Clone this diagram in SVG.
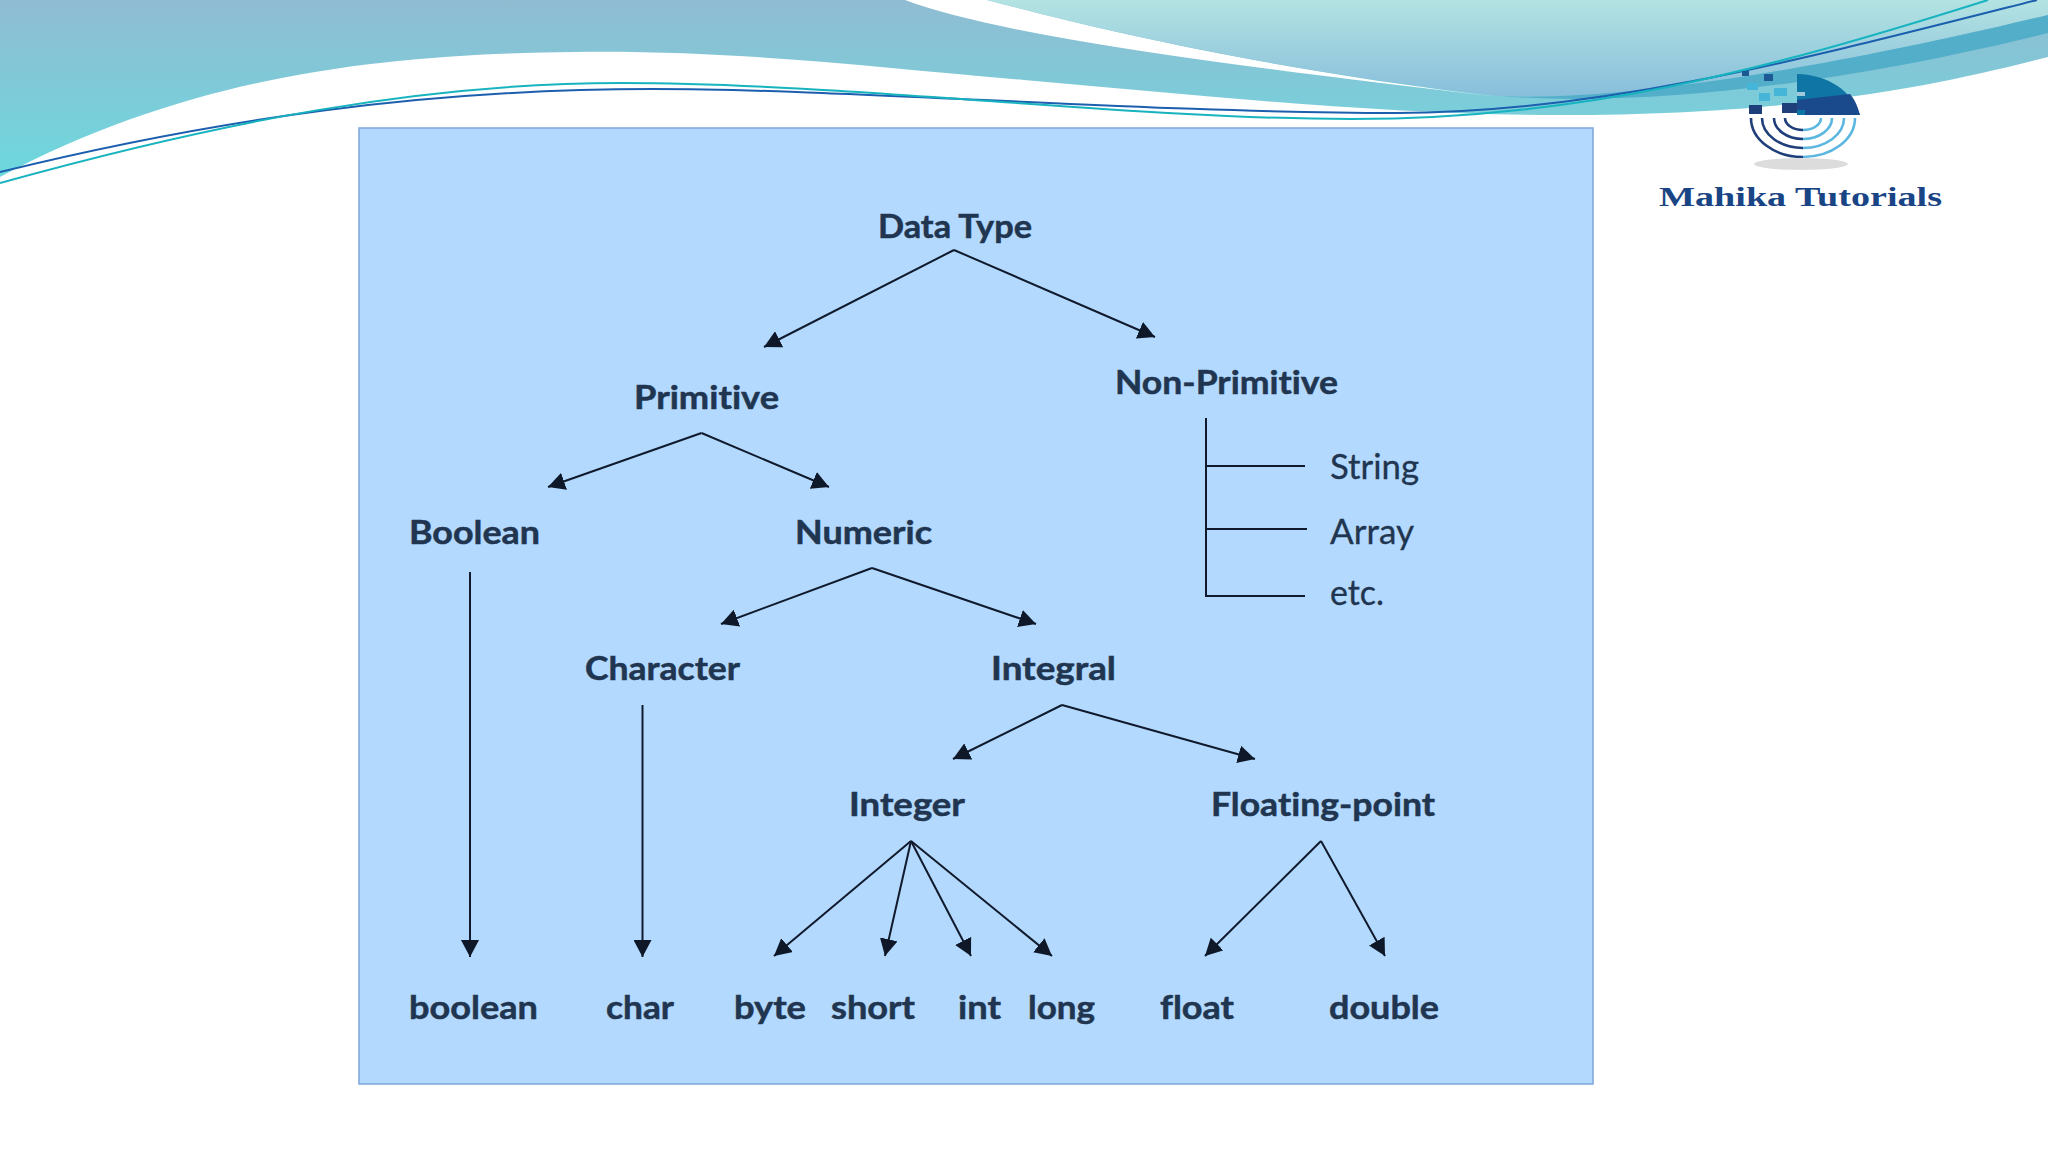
<svg xmlns="http://www.w3.org/2000/svg" width="2048" height="1152" viewBox="0 0 2048 1152">
<style>
text{font-variant-ligatures:none}
.b{font-family:"Lato","Liberation Sans",sans-serif;font-weight:700;font-size:33px;fill:#1f3550;stroke:#1f3550;stroke-width:.5}
.r{font-family:"Lato","Liberation Sans",sans-serif;font-weight:400;font-size:34px;fill:#1f3550;stroke:#1f3550;stroke-width:.3}
.c{fill:none;stroke:#101a2c;stroke-width:2}
.a{marker-end:url(#arrow)}
.l{fill:none;stroke:#1f3f7a;stroke-width:2.6}
.m{fill:none;stroke:#5bb6e0;stroke-width:2.6}
</style>
<defs>
<linearGradient id="g1" gradientUnits="userSpaceOnUse" x1="0" y1="0" x2="0" y2="175"><stop offset="0" stop-color="#90bcd2"/><stop offset="1" stop-color="#6dd8de"/></linearGradient>
<linearGradient id="g2" gradientUnits="userSpaceOnUse" x1="0" y1="0" x2="0" y2="100"><stop offset="0" stop-color="#b3e3e2"/><stop offset="1" stop-color="#86bddb"/></linearGradient>
<marker id="arrow" markerUnits="userSpaceOnUse" markerWidth="20" markerHeight="18" refX="17" refY="9" orient="auto"><path d="M0,0L17,9L0,18Z" fill="#0e1829"/></marker>
</defs>
<rect width="2048" height="1152" fill="#fff"/>
<g id="banner">
<path fill="url(#g1)" d="M0,0H2048V57C1940,85 1800,115 1560,115C1380,115 1200,95 1024,80C880,68 740,50 575,52C400,54 200,70 0,177Z"/>
<path fill="#fff" d="M905,0C1000,35 1200,62 1500,97C1270,70 1100,30 987,0Z"/>
<path fill="url(#g2)" d="M987,0H2048V15C1800,75 1600,102 1500,96C1270,70 1100,30 987,0Z"/>
<path fill="#52aec9" d="M1500,96C1600,102 1800,75 2048,15V33C1850,82 1650,108 1500,96Z"/>
<path fill="none" stroke="#1c5fae" stroke-width="2" d="M0,172C220,118 430,89 653,89C850,89 1150,113 1396,113C1600,113 1800,60 2037,0"/>
<path fill="none" stroke="#17b3bf" stroke-width="2" d="M0,183C220,122 420,83 621,83C850,83 1130,119 1351,119C1580,119 1760,72 1988,0"/>
</g>
<g id="logo">
<path fill="#0f75a5" d="M1797,74C1830,75 1852,92 1860,115H1797Z"/>
<path fill="#1a4a8c" d="M1797,100L1850,94C1856,101 1858,108 1860,115H1805V110H1797Z"/>
<rect x="1797" y="92" width="8" height="4" fill="#fff" opacity=".6"/>
<g fill="#1f3f7a"><rect x="1749" y="105" width="13" height="9"/><rect x="1782" y="103" width="15" height="10"/></g>
<g fill="#45b5d8"><rect x="1759" y="93" width="11" height="8"/><rect x="1774" y="88" width="13" height="8"/><rect x="1747" y="83" width="11" height="7"/></g>
<g fill="#1d5a95"><rect x="1742" y="71" width="7" height="5"/><rect x="1764" y="74" width="9" height="7"/></g>
<path class="l" d="M1751,118A52,39 0 0 0 1803,157"/>
<path class="l" d="M1762,118A41,30 0 0 0 1803,148"/>
<path class="l" d="M1774,118A29,21 0 0 0 1803,139"/>
<path class="l" d="M1785,118A18,12 0 0 0 1803,130"/>
<path class="m" d="M1855,118A52,39 0 0 1 1803,157"/>
<path class="m" d="M1844,118A41,30 0 0 1 1803,148"/>
<path class="m" d="M1832,118A29,21 0 0 1 1803,139"/>
<path class="m" d="M1821,118A18,12 0 0 1 1803,130"/>
<ellipse cx="1801" cy="164" rx="47" ry="6" fill="#dcdcdc"/>
<text x="1659" y="206" font-family="'Liberation Serif',serif" font-weight="700" font-size="27" fill="#1a4585" textLength="283" lengthAdjust="spacingAndGlyphs">Mahika Tutorials</text>
</g>
<rect id="panel" x="359" y="128" width="1234" height="956" fill="#b3d9fe" stroke="#7ea6d8" stroke-width="1.5"/>
<g id="connectors">
<path class="c a" d="M954,250L764,347"/>
<path class="c a" d="M954,250L1155,337"/>
<path class="c a" d="M701.500,433L548,487"/>
<path class="c a" d="M701.500,433L829,487"/>
<path class="c a" d="M872,568L721,624"/>
<path class="c a" d="M872,568L1036,624"/>
<path class="c a" d="M1062,705L953,759"/>
<path class="c a" d="M1062,705L1255,759"/>
<path class="c a" d="M911,841L774,956"/>
<path class="c a" d="M911,841L885,956"/>
<path class="c a" d="M911,841L971,956"/>
<path class="c a" d="M911,841L1052,956"/>
<path class="c a" d="M1321,841L1205,956"/>
<path class="c a" d="M1321,841L1385,956"/>
<path class="c a" d="M470,572V957"/>
<path class="c a" d="M642.500,705V957"/>
<path class="c" d="M1206,418V596H1305M1206,466H1305M1206,529H1307"/>
</g>
<g id="n-datatype"><text class="b" x="878" y="238" textLength="154" lengthAdjust="spacingAndGlyphs">Data Type</text></g>
<g id="n-primitive"><text class="b" x="634" y="409" textLength="145" lengthAdjust="spacingAndGlyphs">Primitive</text></g>
<g id="n-nonprimitive"><text class="b" x="1115" y="394" textLength="223" lengthAdjust="spacingAndGlyphs">Non-Primitive</text></g>
<g id="n-boolean-cat"><text class="b" x="409" y="544" textLength="131" lengthAdjust="spacingAndGlyphs">Boolean</text></g>
<g id="n-numeric"><text class="b" x="795" y="544" textLength="137" lengthAdjust="spacingAndGlyphs">Numeric</text></g>
<g id="n-string"><text class="r" x="1330" y="479" textLength="89" lengthAdjust="spacingAndGlyphs">String</text></g>
<g id="n-array"><text class="r" x="1330" y="544" textLength="84" lengthAdjust="spacingAndGlyphs">Array</text></g>
<g id="n-etc"><text class="r" x="1330" y="605" textLength="54" lengthAdjust="spacingAndGlyphs">etc.</text></g>
<g id="n-character"><text class="b" x="585" y="680" textLength="155" lengthAdjust="spacingAndGlyphs">Character</text></g>
<g id="n-integral"><text class="b" x="991" y="680" textLength="125" lengthAdjust="spacingAndGlyphs">Integral</text></g>
<g id="n-integer"><text class="b" x="849" y="816" textLength="116" lengthAdjust="spacingAndGlyphs">Integer</text></g>
<g id="n-floating"><text class="b" x="1211" y="816" textLength="224" lengthAdjust="spacingAndGlyphs">Floating-point</text></g>
<g id="n-boolean"><text class="b" x="409" y="1019" textLength="129" lengthAdjust="spacingAndGlyphs">boolean</text></g>
<g id="n-char"><text class="b" x="606" y="1019" textLength="68" lengthAdjust="spacingAndGlyphs">char</text></g>
<g id="n-byte"><text class="b" x="734" y="1019" textLength="72" lengthAdjust="spacingAndGlyphs">byte</text></g>
<g id="n-short"><text class="b" x="831" y="1019" textLength="84" lengthAdjust="spacingAndGlyphs">short</text></g>
<g id="n-int"><text class="b" x="958" y="1019" textLength="43" lengthAdjust="spacingAndGlyphs">int</text></g>
<g id="n-long"><text class="b" x="1028" y="1019" textLength="67" lengthAdjust="spacingAndGlyphs">long</text></g>
<g id="n-float"><text class="b" x="1160" y="1019" textLength="74" lengthAdjust="spacingAndGlyphs">float</text></g>
<g id="n-double"><text class="b" x="1329" y="1019" textLength="110" lengthAdjust="spacingAndGlyphs">double</text></g>
</svg>
